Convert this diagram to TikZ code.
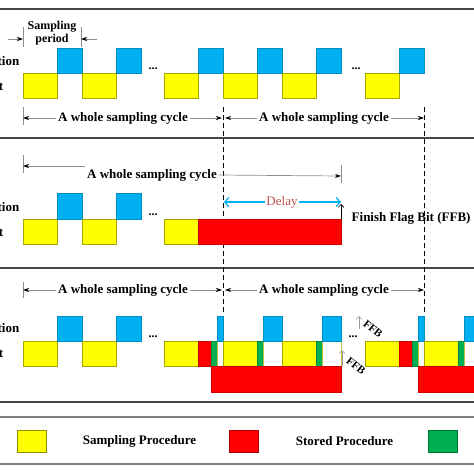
\documentclass[tikz,border=0pt]{standalone}
\usepackage{fontspec}
\setmainfont{Liberation Serif}
\usetikzlibrary{calc, positioning, arrows.meta}

\definecolor{sampyellow}{RGB}{255,255,0}
\definecolor{commblue}{RGB}{0,176,240}
\definecolor{storred}{RGB}{255,0,0}
\definecolor{flaggreen}{RGB}{0,176,80}
\definecolor{delayred}{RGB}{192,80,77}

\tikzset{
  frame/.style={draw=black!72, line width=1.6pt},
  legframe/.style={draw=black!50, line width=1.1pt},
  samp/.style={fill=sampyellow, draw=sampyellow!65!black, line width=0.5pt},
  comm/.style={fill=commblue, draw=commblue!80!black, line width=0.4pt},
  stor/.style={fill=storred, draw=storred!80!black, line width=0.4pt},
  flag/.style={fill=flaggreen, draw=flaggreen!80!black, line width=0.4pt},
  gapcell/.style={fill=white, draw=sampyellow!50!gray, line width=0.3pt},
  lbl/.style={font=\bfseries\fontsize{13}{15}\selectfont, inner sep=1.5pt},
  rowlbl/.style={font=\bfseries\fontsize{13}{15}\selectfont, inner sep=0pt, anchor=east},
  dots/.style={font=\bfseries\fontsize{12}{14}\selectfont, inner sep=0pt},
  tick/.style={draw=black!45, line width=0.6pt},
  dimarr/.style={draw=black!45, line width=0.7pt, -{Stealth[length=6pt, width=4pt, black]}},
  sync/.style={draw=black, line width=0.8pt, dash pattern=on 5pt off 3pt},
  delayarr/.style={draw=commblue, line width=1.2pt, -{Straight Barb[length=4pt, width=9pt]}},
  flagarr/.style={draw=black, line width=0.6pt, -{Straight Barb[length=3pt, width=6pt]}},
  ffbarr/.style={draw=black!40, line width=0.7pt, -{Straight Barb[length=3pt, width=6pt]}},
  ffblbl/.style={font=\bfseries\fontsize{11}{13}\selectfont, inner sep=0pt, rotate=-38},
  legbox/.style={minimum width=29pt, minimum height=22pt, inner sep=0pt, line width=0.8pt}
}

\begin{document}
\begin{tikzpicture}[x=1pt, y=-1pt]
  \useasboundingbox (0,0) rectangle (474,474);

  % panel frames
  \foreach \yy in {9,138,268,402}
    \draw[frame] (0,\yy) -- (474,\yy);
  \draw[legframe] (0,417) -- (474,417);
  \draw[legframe] (0,464) -- (474,464);

  % ---------- panel 1 ----------
  \node[rowlbl] (comlbla) at (19.5,61) {Communication};
  \node[rowlbl] (smplbla) at (3.5,86) {Measurement};
  \foreach \xx in {23,82,164,223,282,365} {
    \draw[samp] (\xx,73) rectangle ++(34,25);
    \draw[comm] (\xx+34,48) rectangle ++(25,25);
  }
  \node[dots] (dotsaa) at (153,69) {...};
  \node[dots] (dotsab) at (356,69) {...};

  % sampling period
  \node[lbl, font=\bfseries\fontsize{12}{13}\selectfont, align=center] (period) at (52,33) {Sampling\\period};
  \coordinate (spl) at (23,39);
  \coordinate (spr) at (81,39);
  \coordinate (splo) at (8,39);
  \coordinate (spro) at (97,39);
  \draw[tick] (23,27) -- (23,47);
  \draw[tick] (81,27) -- (81,47);
  \draw[dimarr] (splo) -- (spl);
  \draw[dimarr] (spro) -- (spr);

  % whole cycles
  \node[lbl] (cyca) at (123,118) {A whole sampling cycle};
  \node[lbl] (cycb) at (324,118) {A whole sampling cycle};
  \coordinate (cal) at (23,118);
  \coordinate (car) at (222,118);
  \coordinate (cbl) at (225,118);
  \coordinate (cbr) at (424,118);
  \draw[tick] (23,107) -- (23,125);
  \draw[dimarr] (cyca.west) -- (cal);
  \draw[dimarr] (cyca.east) -- (car);
  \draw[dimarr] (cycb.west) -- (cbl);
  \draw[dimarr] (cycb.east) -- (cbr);

  % cycle borders
  \draw[sync] (223,107) -- (223,314);
  \draw[sync] (424,107) -- (424,314);

  % ---------- panel 2 ----------
  \node[rowlbl] (comlblb) at (19.5,207) {Communication};
  \node[rowlbl] (smplblb) at (3.5,232) {Measurement};
  \foreach \xx in {23,82} {
    \draw[samp] (\xx,219) rectangle ++(34,25);
    \draw[comm] (\xx+34,193) rectangle ++(25,26);
  }
  \draw[samp] (164,219) rectangle ++(34,25);
  \draw[stor] (198,219) rectangle (341,244);
  \node[dots] (dotsb) at (153,215) {...};

  \node[lbl] (cycc) at (152,175) {A whole sampling cycle};
  \coordinate (ccl) at (23,166);
  \coordinate (ccr) at (341,176);
  \draw[tick] (23,155) -- (23,173);
  \draw[tick] (341,165) -- (341,183);
  \draw[dimarr] (ccl -| cycc.west) -- (ccl);
  \draw[dimarr] (cycc.east) -- (ccr);

  % delay
  \node[font=\fontsize{13}{15}\selectfont, text=delayred, inner sep=1pt] (delay) at (282,202) {Delay};
  \coordinate (dll) at (224,202);
  \coordinate (dlr) at (341,202);
  \draw[delayarr] (delay.west) -- (dll);
  \draw[delayarr] (delay.east) -- (dlr);

  % finish flag bit
  \coordinate (ffbo) at (341,219);
  \coordinate (ffbt) at (341,204);
  \draw[flagarr] (ffbo) -- (ffbt);
  \node[lbl, anchor=west] (ffbtxt) at (350,218) {Finish Flag Bit (FFB)};

  % ---------- panel 3 ----------
  \node[rowlbl] (comlblc) at (19.5,328) {Communication};
  \node[rowlbl] (smplblc) at (3.5,353) {Measurement};
  \foreach \xx in {23,82} {
    \draw[samp] (\xx,341) rectangle ++(34,25);
    \draw[comm] (\xx+34,316) rectangle ++(25,25);
  }
  \draw[samp] (164,341) rectangle ++(34,25);
  \node[dots] (dotsca) at (153,337) {...};

  % end of first cycle
  \draw[stor] (198,341) rectangle (211,366);
  \draw[flag] (211,341) rectangle (217,366);
  \draw[gapcell] (217,341) rectangle (223,366);
  \draw[comm] (217,316) rectangle (223,341);
  % second cycle
  \foreach \xx in {223,282} {
    \draw[samp] (\xx,341) rectangle ++(34,25);
    \draw[flag] (\xx+34,341) rectangle ++(6,25);
    \draw[gapcell] (\xx+40,341) rectangle ++(19,25);
    \draw[comm] (\xx+40,316) rectangle ++(19,25);
  }
  \draw[stor] (211,366) rectangle (341,392);
  \node[dots] (dotscb) at (353,337) {...};
  % third cycle
  \draw[samp] (365,341) rectangle (399,366);
  \draw[stor] (399,341) rectangle (412,366);
  \draw[flag] (412,341) rectangle (418,366);
  \draw[gapcell] (418,341) rectangle (424,366);
  \draw[comm] (418,316) rectangle (424,341);
  \draw[samp] (424,341) rectangle (458,366);
  \draw[flag] (458,341) rectangle (464,366);
  \draw[gapcell] (464,341) rectangle (484,366);
  \draw[comm] (464,316) rectangle (484,341);
  \draw[stor] (418,366) rectangle (484,392);

  % flag bits
  \coordinate (fab) at (359,329);
  \coordinate (fat) at (359,316);
  \draw[ffbarr] (fab) -- (fat);
  \node[ffblbl] (ffba) at (373,329) {FFB};
  \coordinate (fbb) at (342,366);
  \coordinate (fbt) at (342,350);
  \draw[ffbarr] (fbb) -- (fbt);
  \node[ffblbl] (ffbb) at (356,366) {FFB};

  \node[lbl] (cycd) at (123,290) {A whole sampling cycle};
  \node[lbl] (cyce) at (324,290) {A whole sampling cycle};
  \coordinate (cdl) at (23,290);
  \coordinate (cdr) at (222,290);
  \coordinate (cel) at (225,290);
  \coordinate (cer) at (424,290);
  \draw[tick] (23,282) -- (23,298);
  \draw[dimarr] (cycd.west) -- (cdl);
  \draw[dimarr] (cycd.east) -- (cdr);
  \draw[dimarr] (cyce.west) -- (cel);
  \draw[dimarr] (cyce.east) -- (cer);

  % ---------- legend ----------
  \node[legbox, fill=sampyellow, draw=sampyellow!55!black] (legsamp) at (31.5,441) {};
  \node[lbl] (legsamptxt) at (139.5,441) {Sampling Procedure};
  \node[legbox, fill=storred, draw=storred!65!black] (legstor) at (243.5,441) {};
  \node[lbl] (legstortxt) at (344.5,441) {Stored Procedure};
  \node[legbox, fill=flaggreen, draw=flaggreen!65!black] (legflag) at (442.5,441) {};
\end{tikzpicture}
\end{document}
